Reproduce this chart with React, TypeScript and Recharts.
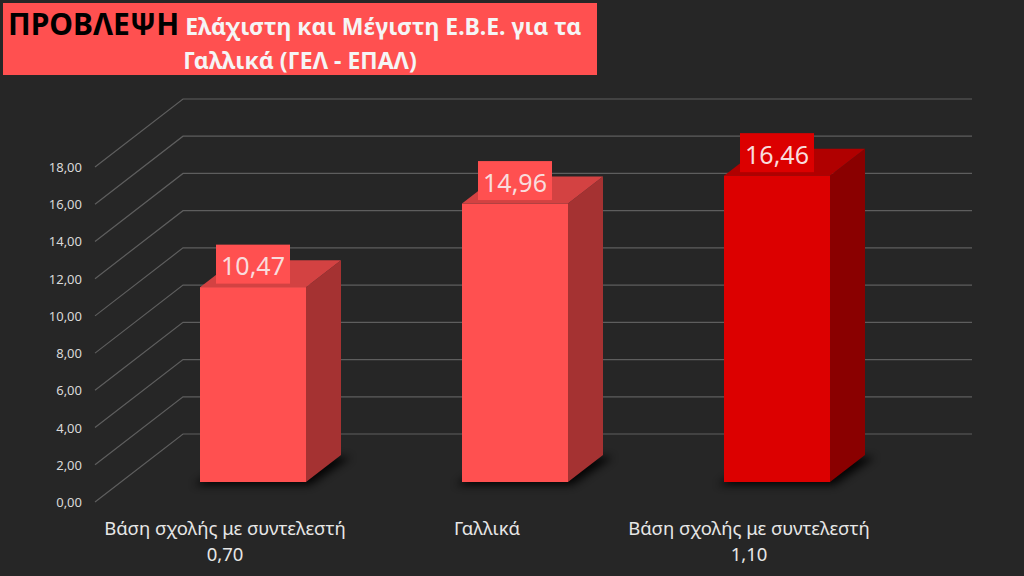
import { BarChart, Bar, XAxis, YAxis, CartesianGrid, LabelList } from 'recharts'

const CATEGORIES = [
  ['Βάση σχολής με συντελεστή', '0,70'],
  ['Γαλλικά'],
  ['Βάση σχολής με συντελεστή', '1,10'],
]
const VALUES = [10.47, 14.96, 16.46]
const Y_TICKS = [0, 2, 4, 6, 8, 10, 12, 14, 16, 18]

const FRONT = ['#FF5050', '#FF5050', '#DC0000']
const SIDE = ['#A53232', '#A53232', '#8A0000']
const TOP = ['#D34242', '#D34242', '#B00000']

const BG = '#262626'
const FONT = '"Noto Sans", "Open Sans", sans-serif'
// 3D offsets: bar depth, front (axis) plane and back wall relative to the bar plane
const DEPTH = { dx: 35, dy: -27 }
const FRONT_PLANE = { dx: -27, dy: 20 }
const BACK_PLANE = { dx: 61, dy: -48 }

const data = CATEGORIES.map((lines, i) => ({ name: lines.join('\n'), value: VALUES[i] }))

const fmt = (v: number) => v.toFixed(2).replace('.', ',')

function Bar3D(props: any) {
  const { x, y, width: w, height: h, index } = props
  const { dx, dy } = DEPTH
  const id = `shadow-${index}`
  return (
    <g>
      <defs>
        <filter id={id} x="-30%" y="-100%" width="160%" height="300%">
          <feGaussianBlur stdDeviation="4" />
        </filter>
      </defs>
      <polygon
        points={`${x - 6},${y + h + 3} ${x + w + 4},${y + h + 3} ${x + w + dx + 10},${y + h + dy + 2} ${x + dx},${y + h + dy + 2}`}
        fill="#000"
        opacity={0.9}
        filter={`url(#${id})`}
      />
      <polygon
        points={`${x + w},${y} ${x + w + dx},${y + dy} ${x + w + dx},${y + h + dy} ${x + w},${y + h}`}
        fill={SIDE[index]}
      />
      <polygon points={`${x},${y} ${x + w},${y} ${x + w + dx},${y + dy} ${x + dx},${y + dy}`} fill={TOP[index]} />
      <rect x={x} y={y} width={w} height={h} fill={FRONT[index]} />
    </g>
  )
}

function ValueLabel(props: any) {
  const { x, y, width, value, index } = props
  const cx = x + width / 2
  const bw = 74
  const bh = 39
  const top = y - 3.5 - bh
  return (
    <g>
      <rect x={cx - bw / 2} y={top} width={bw} height={bh} fill={FRONT[index]} />
      <text
        x={cx}
        y={top + bh / 2 + 1}
        textAnchor="middle"
        dominantBaseline="central"
        fontFamily={FONT}
        fontSize={25}
        fill="#F9DCDC"
      >
        {fmt(value)}
      </text>
    </g>
  )
}

function GridLine(p: any) {
  const { x1, x2, y1 } = p
  const d = `M${x1 + FRONT_PLANE.dx},${y1 + FRONT_PLANE.dy} L${x1 + BACK_PLANE.dx},${y1 + BACK_PLANE.dy} L${x2 + 64},${y1 + BACK_PLANE.dy}`
  return <path key={`g-${y1}`} d={d} stroke="#5E5E5E" strokeWidth={1.2} fill="none" />
}

function YTick(props: any) {
  const { y, payload } = props
  return (
    <text
      x={82}
      y={y + FRONT_PLANE.dy}
      textAnchor="end"
      dominantBaseline="central"
      fontFamily={FONT}
      fontSize={13}
      fill="#D9D9D9"
    >
      {fmt(payload.value)}
    </text>
  )
}

function XTick(props: any) {
  const { x, y, payload } = props
  const lines = String(payload.value).split('\n')
  return (
    <g>
      {lines.map((line, i) => (
        <text
          key={i}
          x={x - 28}
          y={y + 45 + i * 26}
          textAnchor="middle"
          dominantBaseline="central"
          fontFamily={FONT}
          fontSize={18.5}
          fill="#E6E6E6"
        >
          {line}
        </text>
      ))}
    </g>
  )
}

export default function App() {
  return (
    <div style={{ position: 'absolute', left: 0, top: 0, width: 1024, height: 576, background: BG, overflow: 'hidden' }}>
      <BarChart width={1024} height={576} data={data} margin={{ top: 147, right: 116, bottom: 64, left: 62 }}>
        <CartesianGrid vertical={false} horizontal={GridLine} />
        <XAxis dataKey="name" axisLine={false} tickLine={false} tickSize={0} tickMargin={0} height={30} tick={XTick} interval={0} />
        <YAxis
          domain={[0, 18]}
          ticks={Y_TICKS}
          width={60}
          axisLine={false}
          tickLine={false}
          tickSize={0}
          tick={YTick}
          interval={0}
        />
        <Bar dataKey="value" barSize={106} shape={Bar3D} isAnimationActive={false}>
          <LabelList dataKey="value" content={ValueLabel} />
        </Bar>
      </BarChart>
      <div
        style={{
          position: 'absolute',
          left: 3,
          top: 3,
          width: 594,
          height: 72,
          background: '#FF5050',
          fontFamily: FONT,
          fontWeight: 700,
        }}
      >
        <div style={{ position: 'absolute', left: 5, top: 1, whiteSpace: 'nowrap', lineHeight: '40px' }}>
          <span style={{ fontSize: 30, color: '#000' }}>ΠΡΟΒΛΕΨΗ</span>
          <span style={{ fontSize: 23, color: '#F5F5F5' }}> Ελάχιστη και Μέγιστη Ε.Β.Ε. για τα</span>
        </div>
        <div
          style={{
            position: 'absolute',
            left: 0,
            width: 594,
            top: 42,
            textAlign: 'center',
            fontSize: 23,
            lineHeight: '30px',
            color: '#F5F5F5',
          }}
        >
          Γαλλικά (ΓΕΛ - ΕΠΑΛ)
        </div>
      </div>
    </div>
  )
}
